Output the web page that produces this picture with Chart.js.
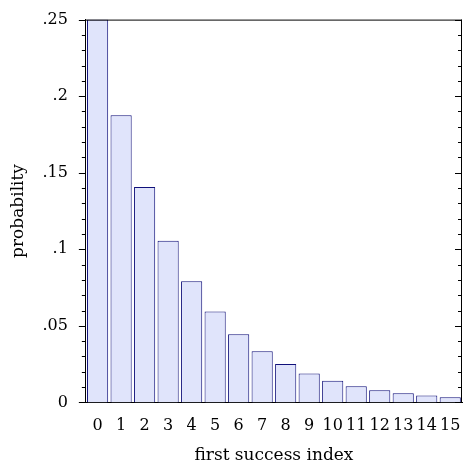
<!DOCTYPE html>
<html>
<head>
<meta charset="utf-8">
<script src="https://cdn.jsdelivr.net/npm/chart.js@4"></script>
<style>
  html, body { margin: 0; padding: 0; background: #fff; }
  #wrap { width: 474px; height: 474px; }
</style>
</head>
<body>
<div id="wrap"><canvas id="chart"></canvas></div>
<script>
// first success index (categories)
const categories = ['0','1','2','3','4','5','6','7','8','9','10','11','12','13','14','15'];
// probability
const probabilities = [0.25, 0.1875, 0.1406, 0.1055, 0.0791, 0.0593, 0.0445, 0.0334,
                       0.025, 0.0188, 0.0141, 0.0106, 0.0079, 0.0059, 0.0045, 0.0033];
const yTicks = [0, 0.05, 0.1, 0.15, 0.2, 0.25];

const axisColor = '#000';
const fontFamily = '"DejaVu Serif", "Liberation Serif", serif';

// draws border, right-side ticks and minor ticks
const frame = {
  id: 'frame',
  afterDraw(chart) {
    const { ctx, chartArea: a, scales: { y } } = chart;
    ctx.save();
    ctx.strokeStyle = axisColor;
    ctx.lineWidth = 1;
    ctx.beginPath();
    ctx.moveTo(a.left, a.top + 0.5); ctx.lineTo(a.right, a.top + 0.5);
    ctx.moveTo(a.right - 0.5, a.top); ctx.lineTo(a.right - 0.5, a.bottom);
    for (let v = 0; v <= 0.2501; v += 0.01) {
      const py = Math.round(y.getPixelForValue(v)) + 0.5;
      const major = Math.abs(v / 0.05 - Math.round(v / 0.05)) < 1e-6;
      const len = major ? 7 : 4;
      ctx.moveTo(a.left - len, py); ctx.lineTo(a.left, py);
      ctx.moveTo(a.right, py); ctx.lineTo(a.right - len, py);
    }
    ctx.stroke();
    ctx.restore();
  }
};

new Chart(document.getElementById('chart'), {
  type: 'bar',
  data: {
    labels: categories,
    datasets: [{
      data: probabilities,
      backgroundColor: '#e0e4fb',
      borderColor: '#10107a',
      borderWidth: 1,
      barPercentage: 0.9,
      categoryPercentage: 1.0
    }]
  },
  options: {
    responsive: true,
    maintainAspectRatio: false,
    animation: false,
    layout: { padding: { top: 15, right: 12, left: 4, bottom: 4 } },
    plugins: { legend: { display: false }, tooltip: { enabled: false } },
    scales: {
      x: {
        grid: { display: false },
        border: { color: axisColor },
        ticks: { color: '#000', font: { family: fontFamily, size: 16 }, maxRotation: 0, autoSkip: false, padding: 6 },
        title: { display: true, text: 'first success index', color: '#000', font: { family: fontFamily, size: 17 } }
      },
      y: {
        min: 0,
        max: 0.25,
        afterBuildTicks(axis) { axis.ticks = yTicks.map(v => ({ value: v })); },
        grid: { display: false },
        border: { color: axisColor },
        ticks: {
          color: '#000',
          font: { family: fontFamily, size: 16 },
          padding: 10,
          callback: v => v === 0 ? '0' : String(+v.toFixed(2)).replace(/^0/, '')
        },
        title: { display: true, text: 'probability', color: '#000', font: { family: fontFamily, size: 17 } }
      }
    }
  },
  plugins: [frame]
});
</script>
</body>
</html>
